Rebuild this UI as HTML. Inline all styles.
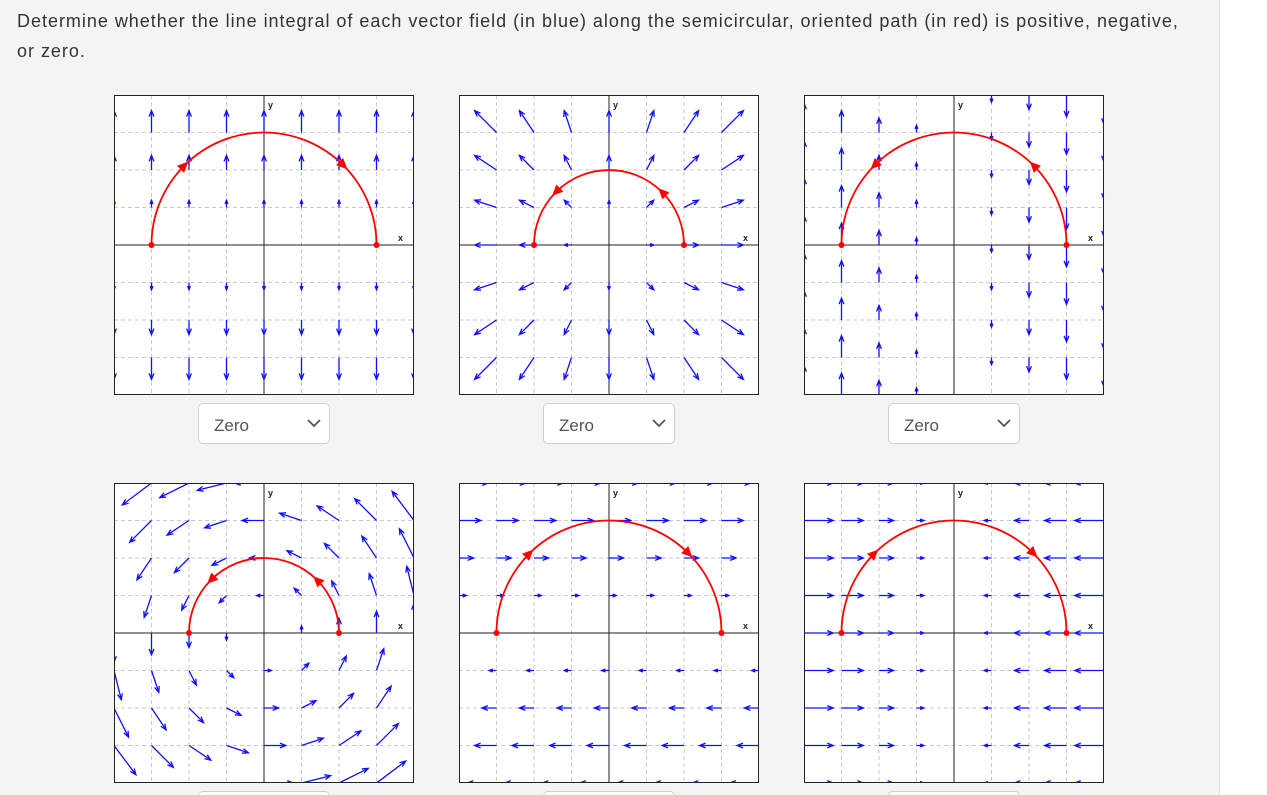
<!DOCTYPE html>
<html style="overflow:hidden;height:795px"><head><meta charset="utf-8"><style>
html,body{margin:0;width:1267px;height:795px;overflow:hidden;background:#fff;font-family:"Liberation Sans",sans-serif;position:relative}
#panel{position:absolute;left:0;top:0;width:1219px;height:795px;background:#f4f4f4;border-right:1px solid #e2e2e2}
#q{position:absolute;left:17px;top:6px;width:1185px;font-size:18px;letter-spacing:0.98px;line-height:30px;color:#333}
.dd{position:absolute;width:132px;height:41px;background:#fff;border:1px solid #cfcfcf;border-radius:5px;box-sizing:border-box;font-size:17px;color:#555;padding:12px 0 0 15px}
.dd svg{position:absolute;right:8px;top:15px}
#chart{position:absolute;left:0;top:0}
#wrap{position:absolute;left:0;top:0;width:1267px;height:795px;overflow:hidden}
</style></head><body>
<div id="wrap">
<div id="panel"></div>
<div id="q">Determine whether the line integral of each vector field (in blue) along the semicircular, oriented path (in red) is positive, negative, or zero.</div>
<svg id="chart" width="1267" height="795"></svg>
</div>
<script>
const plotLeft=[114,459,804,114,459,804];
const plotTop=[95,95,95,483,483,483];
// field: u = ua*x + ub*y ; v = va*x + vb*y
const fieldUa=[0,1,0,0,0,-1];
const fieldUb=[0,0,0,-1,1,0];
const fieldVa=[0,0,-1,1,0,0];
const fieldVb=[1,1,0,0,0,0];
const pathRadius=[3,2,3,2,3,3];
const pathCCW=[false,true,true,true,false,false];
const gridVals=[-4,-3,-2,-1,0,1,2,3,4];
const answers=["Zero","Zero","Zero","Zero","Zero","Zero"];
const unit=37.5, scale=7.3, NS="http://www.w3.org/2000/svg";
const svg=document.getElementById('chart');
const wrap=document.getElementById('wrap');
function mk(t,a,p){const e=document.createElementNS(NS,t);for(const k in a)e.setAttribute(k,a[k]);(p||svg).appendChild(e);return e;}
for(let p=0;p<6;p++){
  const L=plotLeft[p],T=plotTop[p],cx=L+150,cy=T+150;
  const sx=x=>cx+x*unit, sy=y=>cy-y*unit;
  const g=mk('g',{});
  
  
  const cid='clip'+p;
  const cp=mk('clipPath',{id:cid},g);mk('rect',{x:L,y:T,width:300,height:300},cp);
  const bg=mk('rect',{x:L,y:T,width:300,height:300,fill:'#fff'},g);
  
  
  for(const v of [-3,-2,-1,1,2,3]){
    mk('line',{x1:sx(v),y1:T,x2:sx(v),y2:T+300,stroke:'#cacaca','stroke-dasharray':'4,3'},g);
    mk('line',{x1:L,y1:sy(v),x2:L+300,y2:sy(v),stroke:'#cacaca','stroke-dasharray':'4,3'},g);
  }
  const ax=mk('line',{x1:L,y1:cy,x2:L+300,y2:cy,stroke:'#222'},g);
  
  
  const ay=mk('line',{x1:cx,y1:T,x2:cx,y2:T+300,stroke:'#222'},g);
  
  
  const yl=mk('text',{x:cx+4,y:T+13,'font-size':9,'font-weight':'bold',fill:'#222'},g);yl.textContent='y';
  
  
  const xl=mk('text',{x:L+284,y:cy-4,'font-size':9,'font-weight':'bold',fill:'#222'},g);xl.textContent='x';
  
  
  const fg=mk('g',{'clip-path':'url(#'+cid+')',stroke:'#1010ff','stroke-width':1.3,fill:'none'},g);
  for(const gx of gridVals)for(const gy of gridVals){
    const u=fieldUa[p]*gx+fieldUb[p]*gy, v=fieldVa[p]*gx+fieldVb[p]*gy;
    const len=Math.hypot(u,v)*scale; if(len<0.5)continue;
    const x0=sx(gx),y0=sy(gy),dx=u*scale,dy=-v*scale,x1=x0+dx,y1=y0+dy;
    const ux=dx/len,uy=dy/len,h=Math.min(6,len*0.5);
    const a=mk('path',{d:`M${x0},${y0}L${x1},${y1}M${x1-h*ux-h*0.4*uy},${y1-h*uy+h*0.4*ux}L${x1},${y1}L${x1-h*ux+h*0.4*uy},${y1-h*uy-h*0.4*ux}`},fg);
    
    
  }
  const r=pathRadius[p]*unit;
  const arc=mk('path',{d:`M${cx+r},${cy}A${r},${r} 0 0 0 ${cx-r},${cy}`,stroke:'#f00','stroke-width':1.8,fill:'none'},g);
  
  
  for(const ang of [45,135]){
    const t=ang*Math.PI/180,px=cx+r*Math.cos(t),py=cy-r*Math.sin(t);
    let tx=-Math.sin(t),ty=-Math.cos(t); if(!pathCCW[p]){tx=-tx;ty=-ty;}
    const s=11,w=5;
    const hd=mk('path',{d:`M${px+tx*s/2},${py+ty*s/2}L${px-tx*s/2-ty*w},${py-ty*s/2+tx*w}L${px-tx*s/2+ty*w},${py-ty*s/2-tx*w}Z`,fill:'#f00'},g);
    
    
  }
  for(const sgn of [1,-1]){const d=mk('circle',{cx:cx+sgn*r,cy:cy,r:3,fill:'#f00'},g);
    
    }
  mk('rect',{x:L+0.5,y:T+0.5,width:299,height:299,fill:'none',stroke:'#222'},g);
  const dd=document.createElement('div');dd.className='dd';
  dd.style.left=(L+84)+'px';dd.style.top=(T+308)+'px';
  dd.textContent=answers[p];
  
  
  dd.insertAdjacentHTML('beforeend','<svg width="14" height="9"><path d="M1,1L7,7L13,1" stroke="#555" stroke-width="1.8" fill="none"/></svg>');
  wrap.appendChild(dd);
}
</script>
</body></html>
